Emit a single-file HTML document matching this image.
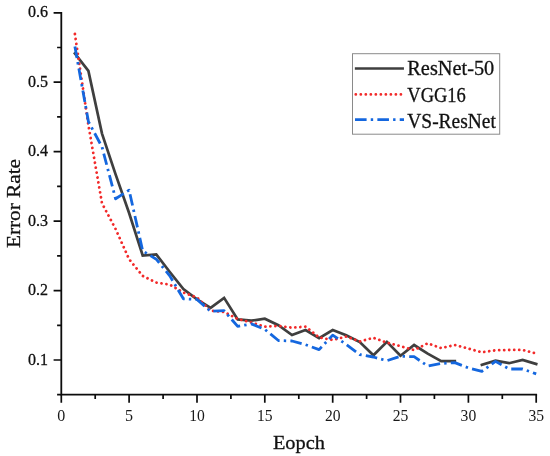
<!DOCTYPE html>
<html><head><meta charset="utf-8"><title>Error Rate</title>
<style>
html,body{margin:0;padding:0;background:#fff;}
svg{display:block}
text{font-family:"Liberation Serif",serif;fill:#111;stroke:#111;stroke-width:0.3px}
.tl{font-size:17px}
.tx{stroke:none;fill:#1a1a1a}
.al{font-size:19.5px}
.lg{font-size:20.7px}
.s1{fill:none;stroke:#3f3f3f;stroke-width:2.7;stroke-linejoin:miter;stroke-linecap:square}
.s2{fill:none;stroke:#f22a2a;stroke-width:2.8;stroke-dasharray:0.01 5;stroke-linecap:round}
.s3{fill:none;stroke:#1467df;stroke-width:2.8;stroke-dasharray:11.6 4.15 2.4 4.21;stroke-linejoin:round}
</style></head><body>
<svg width="550" height="456" viewBox="0 0 550 456">
<rect width="550" height="456" fill="#fff"/>
<path d="M61.3 12.0 V394.7 H537.1" fill="none" stroke="#0c0c0c" stroke-width="1.8"/>
<path d="M53.6 12.8 H61.3 M57.1 47.5 H61.3 M53.6 82.2 H61.3 M57.1 116.9 H61.3 M53.6 151.6 H61.3 M57.1 186.4 H61.3 M53.6 221.1 H61.3 M57.1 255.8 H61.3 M53.6 290.6 H61.3 M57.1 325.3 H61.3 M53.6 360.0 H61.3 M57.1 394.7 H61.3 M61.3 394.7 V402.8 M95.2 394.7 V398.9 M129.1 394.7 V402.8 M163.1 394.7 V398.9 M197.0 394.7 V402.8 M230.9 394.7 V398.9 M264.8 394.7 V402.8 M298.8 394.7 V398.9 M332.7 394.7 V402.8 M366.6 394.7 V398.9 M400.5 394.7 V402.8 M434.4 394.7 V398.9 M468.4 394.7 V402.8 M502.3 394.7 V398.9 M536.2 394.7 V402.8" fill="none" stroke="#0c0c0c" stroke-width="1.7"/>
<text x="47.9" y="17.2" text-anchor="end" class="tl" textLength="20.0" lengthAdjust="spacingAndGlyphs">0.6</text>
<text x="47.9" y="86.7" text-anchor="end" class="tl" textLength="20.0" lengthAdjust="spacingAndGlyphs">0.5</text>
<text x="47.9" y="156.1" text-anchor="end" class="tl" textLength="20.0" lengthAdjust="spacingAndGlyphs">0.4</text>
<text x="47.9" y="225.6" text-anchor="end" class="tl" textLength="20.0" lengthAdjust="spacingAndGlyphs">0.3</text>
<text x="47.9" y="295.1" text-anchor="end" class="tl" textLength="20.0" lengthAdjust="spacingAndGlyphs">0.2</text>
<text x="47.9" y="364.5" text-anchor="end" class="tl" textLength="20.0" lengthAdjust="spacingAndGlyphs">0.1</text>
<text x="61.3" y="420.8" text-anchor="middle" class="tl tx" textLength="8" lengthAdjust="spacingAndGlyphs">0</text>
<text x="129.1" y="420.8" text-anchor="middle" class="tl tx" textLength="8" lengthAdjust="spacingAndGlyphs">5</text>
<text x="197.0" y="420.8" text-anchor="middle" class="tl tx" textLength="15.6" lengthAdjust="spacingAndGlyphs">10</text>
<text x="264.8" y="420.8" text-anchor="middle" class="tl tx" textLength="15.6" lengthAdjust="spacingAndGlyphs">15</text>
<text x="332.7" y="420.8" text-anchor="middle" class="tl tx" textLength="15.6" lengthAdjust="spacingAndGlyphs">20</text>
<text x="400.5" y="420.8" text-anchor="middle" class="tl tx" textLength="15.6" lengthAdjust="spacingAndGlyphs">25</text>
<text x="468.4" y="420.8" text-anchor="middle" class="tl tx" textLength="15.6" lengthAdjust="spacingAndGlyphs">30</text>
<text x="536.2" y="420.8" text-anchor="middle" class="tl tx" textLength="15.6" lengthAdjust="spacingAndGlyphs">35</text>
<text x="298.9" y="449.4" text-anchor="middle" class="al" textLength="52" lengthAdjust="spacingAndGlyphs">Eopch</text>
<text transform="translate(19.8,203.5) rotate(-90)" text-anchor="middle" class="al" textLength="89" lengthAdjust="spacingAndGlyphs">Error Rate</text>
<path d="M74.9 53.5 L88.4 70.9 L102.0 133.6 L115.6 174.4 L129.1 213.0 L142.7 255.5 L156.3 254.4 L169.8 272.0 L183.4 289.1 L197.0 299.3 L210.6 307.9 L224.1 297.9 L237.7 319.4 L251.3 320.7 L264.8 318.7 L278.4 325.2 L292.0 335.0 L305.5 330.1 L319.1 338.1 L332.7 330.0 L346.2 335.3 L359.8 342.1 L373.4 355.3 L386.9 341.9 L400.5 355.8 L414.1 345.0 L427.7 353.7 L441.2 361.1 L454.8 361.1 M481.9 364.9 L495.5 360.7 L509.1 363.2 L522.6 359.9 L536.2 364.0" class="s1"/>
<path d="M74.9 34.0 L88.4 125.1 L102.0 203.3 L115.6 229.0 L129.1 259.2 L142.7 275.9 L156.3 282.5 L169.8 284.6 L183.4 292.6 L197.0 297.4 L210.6 310.7 L224.1 312.0 L237.7 319.0 L251.3 322.5 L264.8 326.6 L278.4 325.9 L292.0 327.7 L305.5 326.6 L319.1 337.4 L332.7 340.0 L346.2 336.5 L359.8 341.4 L373.4 337.8 L386.9 342.6 L400.5 346.2 L414.1 350.1 L427.7 343.3 L441.2 348.1 L454.8 345.0 L468.4 348.6 L481.9 352.3 L495.5 350.3 L509.1 350.0 L522.6 349.9 L536.2 353.5" class="s2"/>
<path d="M74.9 46.6 L88.4 121.6 L102.0 146.9 L115.6 198.8 L129.1 190.1 L142.7 250.9 L156.3 259.2 L169.8 275.9 L183.4 298.8 L197.0 299.5 L210.6 311.3 L224.1 310.7 L237.7 326.4 L251.3 323.9 L264.8 329.4 L278.4 340.5 L292.0 341.0 L305.5 344.7 L319.1 349.6 L332.7 335.1 L346.2 344.4 L359.8 354.6 L373.4 357.0 L386.9 360.7 L400.5 356.3 L414.1 356.7 L427.7 366.0 L441.2 363.5 L454.8 362.6 L468.4 367.9 L481.9 371.3 L495.5 361.4 L509.1 369.0 L522.6 369.0 L536.2 373.9" class="s3"/>
<rect x="352.5" y="53.7" width="147.2" height="80.5" fill="#fff" stroke="#8a8a8a" stroke-width="1"/>
<path d="M356.2 68.5 H402.6" class="s1"/>
<path d="M355.8 94.4 H403" class="s2"/>
<path d="M355 119.7 H404" class="s3"/>
<text x="407.3" y="75.3" class="lg" textLength="87" lengthAdjust="spacingAndGlyphs">ResNet-50</text>
<text x="407.3" y="102.3" class="lg" textLength="58.5" lengthAdjust="spacingAndGlyphs">VGG16</text>
<text x="407.3" y="127.8" class="lg" textLength="88.5" lengthAdjust="spacingAndGlyphs">VS-ResNet</text>
</svg>
</body></html>
